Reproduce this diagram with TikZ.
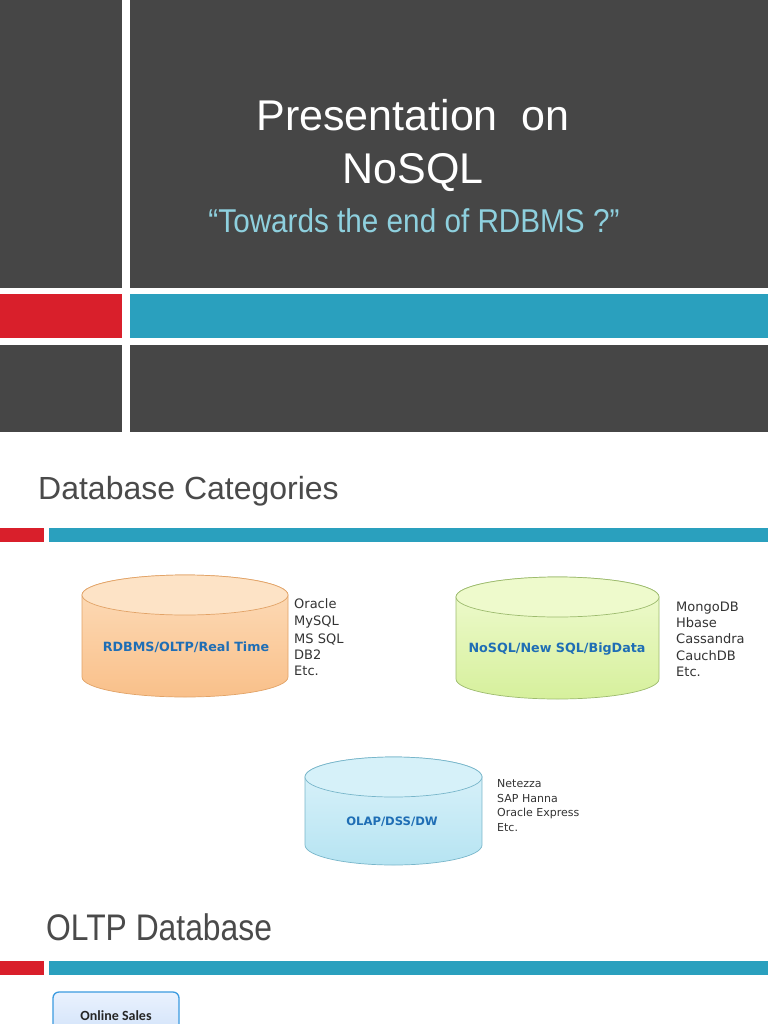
\documentclass[tikz,border=0pt]{standalone}
\usepackage{fontspec}
\setmainfont{Liberation Sans}
\newfontfamily\dvs{DejaVu Sans}
\newfontfamily\carl{Carlito}
\definecolor{slate}{HTML}{464646}
\definecolor{redbar}{HTML}{D91F2B}
\definecolor{tealbar}{HTML}{2AA0BE}
\definecolor{subteal}{HTML}{8ED0DE}
\definecolor{headgray}{HTML}{4A4A4A}
\definecolor{lblblue}{HTML}{1F6EB5}
\definecolor{listgray}{HTML}{333333}
\definecolor{orTop}{HTML}{FDDDBB}
\definecolor{orBot}{HTML}{F9C08A}
\definecolor{orCap}{HTML}{FDE3C6}
\definecolor{orLine}{HTML}{E2A367}
\definecolor{grTop}{HTML}{F0FBD2}
\definecolor{grBot}{HTML}{D6F09C}
\definecolor{grCap}{HTML}{EEFACC}
\definecolor{grLine}{HTML}{9DBB6E}
\definecolor{blTop}{HTML}{DDF3FA}
\definecolor{blBot}{HTML}{B6E4F2}
\definecolor{blCap}{HTML}{D6F1F9}
\definecolor{blLine}{HTML}{78B6CA}
\definecolor{boxLine}{HTML}{3B9BE0}
\definecolor{boxTop}{HTML}{EAF2FE}
\definecolor{boxBot}{HTML}{C9DDF8}
\newcommand{\dbcyl}[9]{% cx, ytop, ybot, rx, ry, topcol, botcol, linecol, capcol
  \shade[top color=#6, bottom color=#7, draw=#8, line width=0.7pt]
    (#1-#4,-#2) -- (#1-#4,-#3) arc[start angle=180,end angle=360,x radius=#4,y radius=#5]
    -- (#1+#4,-#2) arc[start angle=0,end angle=180,x radius=#4,y radius=#5] -- cycle;
  \fill[#9, draw=#8, line width=0.7pt] (#1,-#2) ellipse[x radius=#4,y radius=#5];
}
\begin{document}
\begin{tikzpicture}[x=1pt,y=1pt,
  title/.style={text=white, font=\fontsize{43}{50}\selectfont, anchor=base, inner sep=0pt},
  heading/.style={text=headgray, anchor=base west, inner sep=0pt},
  cyllabel/.style={text=lblblue, font=\dvs\bfseries\fontsize{12.7}{15}\selectfont, inner sep=0pt},
  listitem/.style={text=listgray, font=\dvs\fontsize{13}{15}\selectfont, anchor=base west, inner sep=0pt},
  smallitem/.style={text=listgray, font=\dvs\fontsize{11}{13}\selectfont, anchor=base west, inner sep=0pt},
  salesbox/.style={draw=boxLine, line width=1.3pt, rounded corners=6pt, top color=boxTop, bottom color=boxBot}
]
\clip (0,0) rectangle (768,-1024);
\fill[white] (0,0) rectangle (768,-1024);
% title block
\fill[slate] (0,0) rectangle (768,-432);
\fill[white] (122,0) rectangle (130,-432);
\fill[white] (0,-288) rectangle (768,-294);
\fill[white] (0,-338) rectangle (768,-345);
\fill[redbar] (0,-294) rectangle (122,-338);
\fill[tealbar] (130,-294) rectangle (768,-338);
\node[title] (t1) at (413,-131) {Presentation\ \ on};
\node[title] (t2) at (413,-184) {NoSQL};
\node[text=subteal, anchor=base, inner sep=0pt, font=\fontsize{33}{38}\selectfont] (t3) at (414,-233)
  {\scalebox{0.9}[1]{“Towards the end of RDBMS ?”}};
% section 1
\node[heading, font=\fontsize{32}{38}\selectfont] (h1) at (38,-499) {Database Categories};
\fill[redbar] (0,-528) rectangle (44,-542);
\fill[tealbar] (49,-528) rectangle (768,-542);
% cylinders
\dbcyl{185}{595}{677}{103}{20}{orTop}{orBot}{orLine}{orCap}
\node[cyllabel] (c1) at (186,-647) {RDBMS/OLTP/Real Time};
\dbcyl{557.5}{597}{679}{101.5}{20}{grTop}{grBot}{grLine}{grCap}
\node[cyllabel] (c2) at (557,-649) {NoSQL/New SQL/BigData};
\dbcyl{393.5}{777}{845}{88.5}{20}{blTop}{blBot}{blLine}{blCap}
\node[cyllabel, font=\dvs\bfseries\fontsize{11.6}{14}\selectfont] (c3) at (392,-822) {OLAP/DSS/DW};
\node[listitem] (l1a) at (294,-608) {Oracle};
\node[listitem] (l1b) at (294,-625) {MySQL};
\node[listitem] (l1c) at (294,-643) {MS SQL};
\node[listitem] (l1d) at (294,-659) {DB2};
\node[listitem] (l1e) at (294,-675) {Etc.};
\node[listitem] (l2a) at (676,-611) {MongoDB};
\node[listitem] (l2b) at (676,-627) {Hbase};
\node[listitem] (l2c) at (676,-643) {Cassandra};
\node[listitem] (l2d) at (676,-660) {CauchDB};
\node[listitem] (l2e) at (676,-676) {Etc.};
\node[smallitem] (l3a) at (497,-787) {Netezza};
\node[smallitem] (l3b) at (497,-802) {SAP Hanna};
\node[smallitem] (l3c) at (497,-816) {Oracle Express};
\node[smallitem] (l3d) at (497,-831) {Etc.};
% section 2
\node[heading, font=\fontsize{37}{42}\selectfont] (h2) at (46,-940) {\scalebox{0.86}[1]{OLTP Database}};
\fill[redbar] (0,-961) rectangle (44,-975);
\fill[tealbar] (49,-961) rectangle (768,-975);
\draw[salesbox] (53,-992) rectangle (179,-1050);
\node[font=\carl\bfseries\fontsize{14}{17}\selectfont, text=black!85, anchor=base, inner sep=0pt] (os) at (116,-1020) {Online Sales};
\end{tikzpicture}
\end{document}
